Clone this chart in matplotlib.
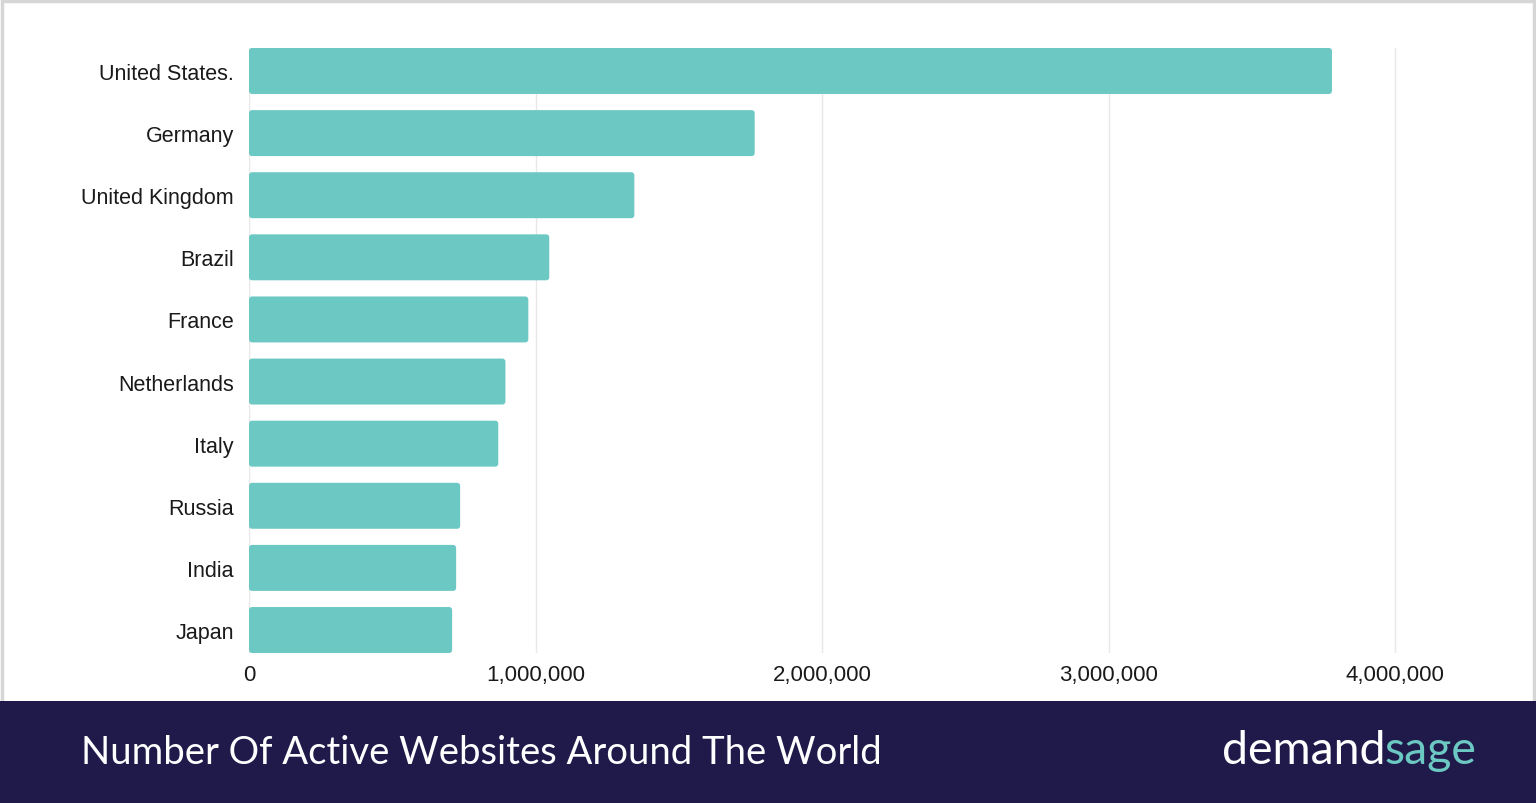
import matplotlib
matplotlib.use('Agg')
import matplotlib.pyplot as plt
from matplotlib.patches import Rectangle, FancyBboxPatch
from matplotlib.ticker import FuncFormatter

countries = ['United States.', 'Germany', 'United Kingdom', 'Brazil', 'France',
             'Netherlands', 'Italy', 'Russia', 'India', 'Japan']
websites = [3780000, 1765000, 1345000, 1048000, 975000,
            895000, 870000, 737000, 723000, 709000]
x_ticks = [0, 1000000, 2000000, 3000000, 4000000]

title = 'Number Of Active Websites Around The World'
bar_color = '#6cc8c2'
navy = '#201a4a'

W, H = 1536, 804
fig = plt.figure(figsize=(W / 100, H / 100), dpi=100)
fig.patch.set_facecolor('white')

# plot area in pixels: 0 at x=249, 286.5 px per million
px_per_unit = 286.5e-6
x_max = 4300000
left, top, bottom = 249, 49, 654
ax = fig.add_axes([left / W, 1 - bottom / H,
                   x_max * px_per_unit / W, (bottom - top) / H])

ypos = list(range(len(countries)))[::-1]
bars = ax.barh(ypos, websites, height=0.74, color=bar_color, zorder=2)
ax.set_ylim(-0.37, len(countries) - 1 + 0.37)
ax.set_xlim(0, x_max)

# swap the square bars for slightly rounded ones
x_per_px = 1 / px_per_unit
y_per_px = (len(countries) - 1 + 0.74) / (bottom - top)
r = 3 * x_per_px
for b in bars:
    x0, y0 = b.get_x(), b.get_y()
    w, h = b.get_width(), b.get_height()
    b.set_visible(False)
    ax.add_patch(FancyBboxPatch((x0, y0), w, h,
                                boxstyle='round,pad=0,rounding_size=%f' % r,
                                mutation_aspect=y_per_px / x_per_px,
                                facecolor=bar_color, edgecolor='none', zorder=2))

ax.set_yticks(ypos)
ax.set_yticklabels(countries, fontsize=15.5, family='Liberation Sans', color='#1a1a1a')
ax.set_xticks(x_ticks)
ax.xaxis.set_major_formatter(FuncFormatter(lambda v, p: '{:,.0f}'.format(v)))
for lbl in ax.get_xticklabels():
    lbl.set_fontsize(16)
    lbl.set_family('Liberation Sans')
    lbl.set_color('#1a1a1a')
ax.tick_params(axis='y', length=0, pad=11)
ax.tick_params(axis='x', length=0, pad=8)
ax.grid(axis='x', color='#e8e8e8', linewidth=1, zorder=0)
for s in ax.spines.values():
    s.set_visible(False)
ax.set_facecolor('none')

# thin grey frame, then the bottom band drawn over its lower edge
fig.patches.append(Rectangle((0.001, 0), 0.998, 0.998, transform=fig.transFigure,
                             facecolor='none', edgecolor='#d6d6d6',
                             linewidth=2.5, zorder=1))
fig.patches.append(Rectangle((0, 0), 1, 102 / H, transform=fig.transFigure,
                             facecolor=navy, edgecolor='none', zorder=2))

fig.text(81 / W, 1 - 753 / H, title, color='white', fontsize=27.5,
         family='Lato', va='center', ha='left')
fig.text(1385 / W, 1 - 751 / H, 'demand', color='white', fontsize=33.5,
         family='Lato', va='center', ha='right')
fig.text(1385 / W, 1 - 751 / H, 'sage', color=bar_color, fontsize=33.5,
         family='Lato', va='center', ha='left')

fig.savefig('out.png', dpi=100)
